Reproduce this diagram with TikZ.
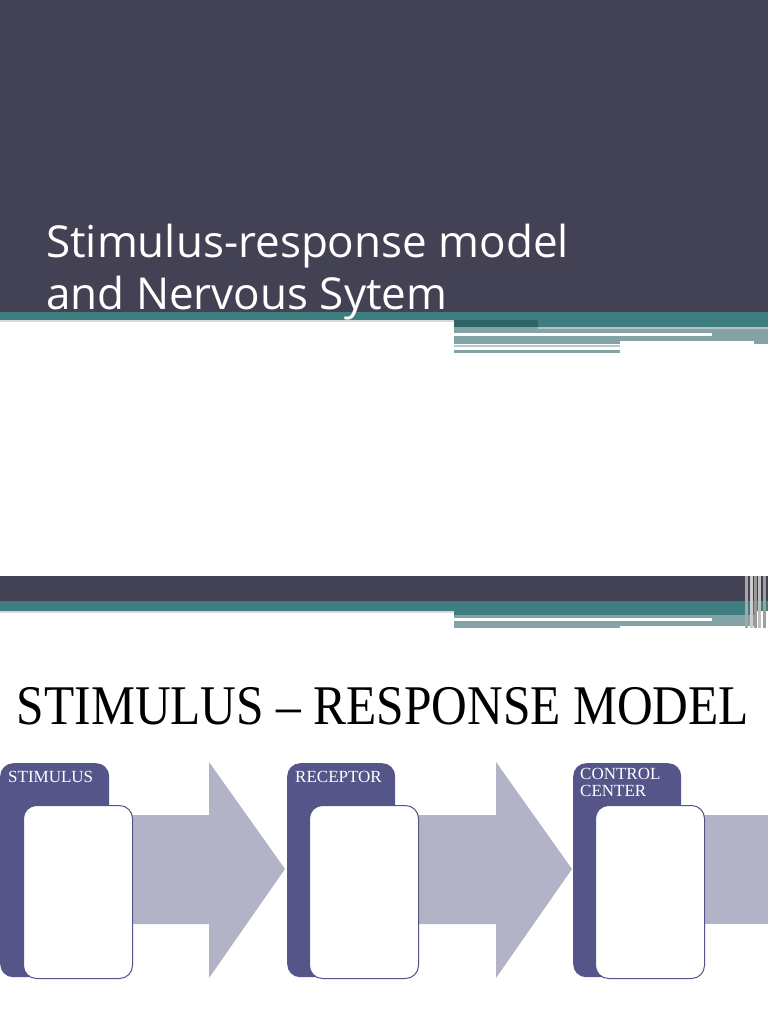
\documentclass[tikz,border=0pt]{standalone}
\usepackage{fontspec}
\newfontfamily\titlefont{Open Sans}
\newfontfamily\seriffont{Liberation Serif}
\definecolor{slidedark}{HTML}{424254}
\definecolor{tealmain}{HTML}{3F7E80}
\definecolor{tealdeep}{HTML}{2E6466}
\definecolor{tealgray}{HTML}{84A3A6}
\definecolor{tealpale}{HTML}{B5C8CA}
\definecolor{blockpurple}{HTML}{55558A}
\definecolor{arrowgray}{HTML}{B3B3C7}
\tikzset{
  purplebox/.style={fill=blockpurple, rounded corners=13pt},
  whitebox/.style={fill=white, draw=blockpurple, line width=1pt, rounded corners=13pt},
  flowarrow/.style={fill=arrowgray},
  blocklabel/.style={text=white, font=\seriffont\fontsize{17}{18}\selectfont, anchor=north west, align=left, inner sep=0pt},
}
\begin{document}
\begin{tikzpicture}[x=1pt,y=-1pt]
\useasboundingbox (0,0) rectangle (768,1024);
\fill[white] (0,0) rectangle (768,1024);
% ---------- first slide ----------
\fill[slidedark] (0,0) rectangle (768,312);
\fill[tealmain] (0,312) rectangle (538,320);
\fill[black!15] (0,320) rectangle (454,322);
\fill[tealgray] (454,327) rectangle (768,344);
\fill[tealdeep] (454,320) rectangle (538,327);
\fill[black!25] (538,327) rectangle (768,329);
\fill[tealmain] (538,312) rectangle (768,327);
\fill[white] (454,333) rectangle (712,335.5);
\fill[white] (620,341) rectangle (754,343.5);
\fill[tealpale] (454,345) rectangle (620,347);
\fill[tealgray] (454,349.5) rectangle (620,352.5);
\node[anchor=base west, inner sep=0pt, text=white, align=left,
      font=\titlefont\fontsize{44}{52}\selectfont] (maintitle) at (46,257)
  {Stimulus-response model};
\node[anchor=base west, inner sep=0pt, text=white,
      font=\titlefont\fontsize{44}{52}\selectfont] (maintitle2) at (46,309)
  {and Nervous Sytem};
% ---------- second slide ----------
\fill[slidedark] (0,576) rectangle (768,601);
\fill[tealmain] (0,601) rectangle (768,611);
\fill[black!15] (0,611) rectangle (454,613);
\fill[tealgray] (454,615) rectangle (756,628);
\fill[tealmain] (454,611) rectangle (756,615);
\fill[white] (454,618) rectangle (712,620.5);
\fill[white] (620,626) rectangle (754,628.5);
\foreach \xx/\cc in {745/gray!70, 750/gray!40, 754/gray!80, 758/gray!50, 763/gray!75}
  \fill[\cc] (\xx,576) rectangle ++(3,52);
\node[anchor=base, inner sep=0pt, text=black,
      font=\seriffont\fontsize{56}{60}\selectfont] (modeltitle) at (383,724)
  {\scalebox{0.883}[1]{STIMULUS – RESPONSE MODEL}};
% ---------- blocks ----------
% arrows (behind)
\fill[flowarrow] (132,815) -- (209,815) -- (209,762) -- (285,869) -- (209,978) -- (209,924) -- (132,924) -- cycle;
\fill[flowarrow] (418,815) -- (496,815) -- (496,762) -- (572,869) -- (496,978) -- (496,924) -- (418,924) -- cycle;
\fill[flowarrow] (704,815) rectangle (768,924);
% block 1
\node[purplebox, anchor=north west, minimum width=109pt, minimum height=214pt, inner sep=0pt] (stimback) at (0,763) {};
\node[whitebox, anchor=north west, minimum width=109pt, minimum height=173pt, inner sep=0pt] (stimbox) at (23,805) {};
\node[blocklabel] (stimlabel) at (8,771) {STIMULUS};
% block 2
\node[purplebox, anchor=north west, minimum width=108pt, minimum height=214pt, inner sep=0pt] (recback) at (287,763) {};
\node[whitebox, anchor=north west, minimum width=109pt, minimum height=173pt, inner sep=0pt] (recbox) at (309,805) {};
\node[blocklabel] (reclabel) at (295,771) {RECEPTOR};
% block 3
\node[purplebox, anchor=north west, minimum width=108pt, minimum height=214pt, inner sep=0pt] (ccback) at (573,763) {};
\node[whitebox, anchor=north west, minimum width=109pt, minimum height=173pt, inner sep=0pt] (ccbox) at (595,805) {};
\node[blocklabel] (cclabel) at (580,768) {CONTROL\\[-1pt]CENTER};
\end{tikzpicture}
\end{document}
